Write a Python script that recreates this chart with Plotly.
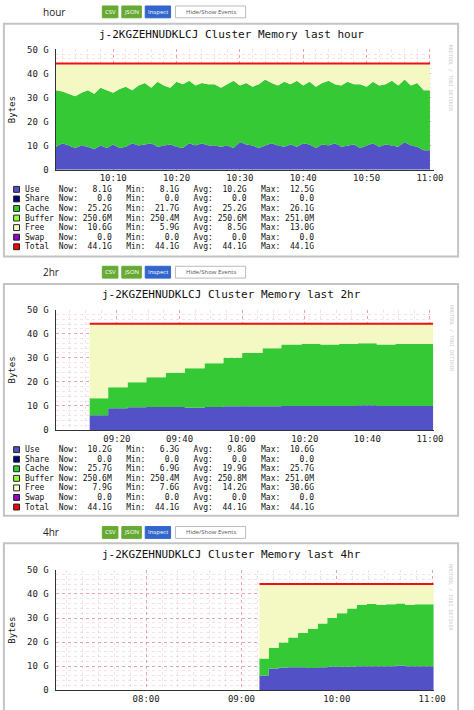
import plotly.graph_objects as go

W, H = 474, 710
def px(x): return x / W
def py(y): return 1 - y / H

# ---------------- data ----------------
use_1h = [10, 9.5, 11, 10, 9, 10, 9.5, 8.5, 10, 9, 10.5, 9, 9.5, 11, 10, 10.5, 11, 9.5, 10, 10.5,
          9.5, 9, 11, 10, 11, 10, 10, 9.5, 10, 9, 11.5, 10.5, 10, 9, 10, 11, 10, 9.5, 10.5, 9.5,
          11, 10.5, 9, 10.5, 10, 11, 9.5, 10, 10.5, 9, 10, 11, 9.5, 10.5, 10, 9.5, 11.5, 10, 9.5, 8.1, 8.1]
cache_top_1h = [31, 33, 32.5, 31.5, 30.5, 32, 33, 31.5, 34, 33, 32, 33.5, 34.5, 33, 35, 36, 34, 36.5, 35, 34,
                36.5, 35.5, 37, 35, 36, 35.5, 35.5, 34, 35.5, 37, 35, 36, 34.5, 35.5, 37.5, 36, 35, 36.5, 35.5, 37,
                35, 36.5, 34.5, 36, 37, 35.5, 35, 36.5, 35.5, 35.5, 34.5, 36.5, 35, 35.5, 37, 35, 37.5, 35, 36, 33, 33]
total_gb = 44.1

# step data shared by 2hr / 4hr (minutes after 09:00)
step_min = [11.3, 17.2, 23.4, 29.4, 35.6, 41.7, 48, 54, 60, 66.5, 72.5, 79, 85, 91, 97, 103, 109, 121]
step_use = [6.1, 9.0, 9.4, 9.5, 9.5, 9.2, 9.5, 9.8, 9.8, 9.8, 10.0, 10.0, 10.0, 10.0, 10.3, 10.0, 10.0, 10.0]
step_cache_top = [13.2, 17.7, 19.8, 21.9, 23.8, 25.6, 27.7, 30.0, 32.0, 34.0, 35.5, 35.8, 35.5, 35.7, 36.0, 35.5, 35.7, 35.7]

y_ticks = [0, 10, 20, 30, 40, 50]
y_labels = ["0", "10 G", "20 G", "30 G", "40 G", "50 G"]
x1_ticks = [10, 20, 30, 40, 50, 60]
x1_labels = ["10:10", "10:20", "10:30", "10:40", "10:50", "11:00"]
x2_ticks = [20, 40, 60, 80, 100, 120]
x2_labels = ["09:20", "09:40", "10:00", "10:20", "10:40", "11:00"]
x3_ticks = [60, 120, 180, 240]
x3_labels = ["08:00", "09:00", "10:00", "11:00"]

legend_names = ["Use", "Share", "Cache", "Buffer", "Free", "Swap", "Total"]
legend_colors = ["#5050c8", "#000080", "#33cc33", "#99ff33", "#ffffcc", "#9900cc", "#ff0000"]
stats_1h = [["8.1G", "8.1G", "10.2G", "12.5G"], ["0.0", "0.0", "0.0", "0.0"],
            ["25.2G", "21.7G", "25.2G", "26.1G"], ["250.6M", "250.4M", "250.6M", "251.0M"],
            ["10.6G", "5.9G", "8.5G", "13.0G"], ["0.0", "0.0", "0.0", "0.0"],
            ["44.1G", "44.1G", "44.1G", "44.1G"]]
stats_2h = [["10.2G", "6.3G", "9.8G", "10.6G"], ["0.0", "0.0", "0.0", "0.0"],
            ["25.7G", "6.9G", "19.9G", "25.7G"], ["250.6M", "250.4M", "250.8M", "251.0M"],
            ["7.9G", "7.6G", "14.2G", "30.6G"], ["0.0", "0.0", "0.0", "0.0"],
            ["44.1G", "44.1G", "44.1G", "44.1G"]]

USE_C, CACHE_C, FREE_C, TOT_C = "#5252c6", "#35c935", "#f4f9c4", "#ee1111"
MONO = "DejaVu Sans Mono"

fig = go.Figure()

def add_stack(x, use, top, xa, ya, shape):
    fig.add_trace(go.Scatter(x=x, y=use, mode="lines", line=dict(width=0, shape=shape, color=USE_C),
                             fill="tozeroy", fillcolor=USE_C, xaxis=xa, yaxis=ya, showlegend=False))
    fig.add_trace(go.Scatter(x=x, y=top, mode="lines", line=dict(width=0, shape=shape, color=CACHE_C),
                             fill="tonexty", fillcolor=CACHE_C, xaxis=xa, yaxis=ya, showlegend=False))
    fig.add_trace(go.Scatter(x=x, y=[total_gb] * len(x), mode="lines", line=dict(width=2, color=TOT_C),
                             fill="tonexty", fillcolor=FREE_C, xaxis=xa, yaxis=ya, showlegend=False))

t1 = list(range(len(use_1h)))
add_stack(t1, use_1h, cache_top_1h, "x", "y", "linear")
add_stack(step_min, step_use, step_cache_top, "x2", "y2", "hv")
add_stack([m + 120 for m in step_min], step_use, step_cache_top, "x3", "y3", "hv")

panels = [
    ("hour", 19, 255, 45, 167, "hour", 187, stats_1h, 7),
    ("2hr", 283, 518, 309, 431, "2hr", 451, stats_2h, 271),
    ("4hr", 546, 716, 573, 695, "4hr", None, None, 535),
]

axis_common = dict(showline=True, linecolor="#333", linewidth=1, ticks="", zeroline=False,
                   tickfont=dict(family=MONO, size=9, color="#222"),
                   gridcolor="rgba(230,120,120,0.6)", griddash="dot", gridwidth=1)
xr = [[0.9, 60.6], [0.4, 121.2], [3, 241]]
xt = [(x1_ticks, x1_labels, 2), (x2_ticks, x2_labels, 5), (x3_ticks, x3_labels, 10)]
shapes, annos = [], []
for i, (lab, bt, bb, pt, pb, suf, ly, stats, hy) in enumerate(panels):
    sfx = "" if i == 0 else str(i + 1)
    fig.update_layout(**{
        "xaxis" + sfx: dict(axis_common, domain=[px(57), px(445)], range=xr[i], anchor="y" + sfx,
                            tickvals=xt[i][0], ticktext=xt[i][1],
                            minor=dict(dtick=xt[i][2], showgrid=True, gridcolor="rgba(235,190,190,0.45)")),
        "yaxis" + sfx: dict(axis_common, domain=[py(pb), py(pt)], range=[0, 50], anchor="x" + sfx,
                            tickvals=y_ticks, ticktext=y_labels, ticklabelstandoff=4,
                            minor=dict(dtick=2, showgrid=True, gridcolor="rgba(235,190,190,0.45)")),
    })
    shapes.append(dict(type="rect", xref="paper", yref="paper", x0=px(4), x1=px(470), y0=py(bb), y1=py(bt),
                       line=dict(color="#c4c4c4", width=2), fillcolor="white", layer="below"))
    annos.append(dict(text=f"j-2KGZEHNUDKLCJ Cluster Memory last {suf}", x=px(237), y=py(bt + 11),
                      xanchor="center", font=dict(family=MONO, size=11, color="#111")))
    annos.append(dict(text="Bytes", x=px(12), y=py((pt + pb) / 2), textangle=-90, xanchor="center",
                      font=dict(family=MONO, size=9, color="#111")))
    annos.append(dict(text="RRDTOOL / TOBI OETIKER", x=px(463), y=py(bt + 55), textangle=90, xanchor="center",
                      font=dict(family=MONO, size=5, color="#cccccc")))
    annos.append(dict(text=lab, x=px(42), y=py(hy), xanchor="left", font=dict(family="Open Sans", size=10, color="#222")))
    for (x0, x1, txt, col) in [(105, 121, "CSV", "#66aa33"), (125, 145, "JSON", "#66aa33"),
                               (149, 175, "Inspect", "#3366cc"), (180, 252, "Hide/Show Events", "white")]:
        shapes.append(dict(type="rect", xref="paper", yref="paper", x0=px(x0), x1=px(x1),
                           y0=py(hy + 6), y1=py(hy - 6), fillcolor=col, layer="below",
                           line=dict(color="#bbbbbb" if col == "white" else col, width=1)))
        annos.append(dict(text=txt, x=px((x0 + x1) / 2), y=py(hy), xanchor="center",
                          font=dict(family="Open Sans", size=6, color="#555" if col == "white" else "white")))
    if stats:
        for j, (name, c, s) in enumerate(zip(legend_names, legend_colors, stats)):
            yy = ly + j * 9.7
            shapes.append(dict(type="rect", xref="paper", yref="paper", x0=px(14), x1=px(20),
                               y0=py(yy + 3), y1=py(yy - 3), fillcolor=c, line=dict(color="#222", width=1)))
            line = f"{name:<6} Now:{s[0]:>7}   Min:{s[1]:>7}   Avg:{s[2]:>7}   Max:{s[3]:>7}"
            annos.append(dict(text=line.replace(" ", "\u00a0"), x=px(24), y=py(yy), xanchor="left",
                              yanchor="middle", font=dict(family=MONO, size=8, color="#111")))

for a in annos:
    a.setdefault("xref", "paper"); a.setdefault("yref", "paper"); a.setdefault("showarrow", False)
    a.setdefault("yanchor", "middle")

fig.update_layout(width=W, height=H, margin=dict(l=0, r=0, t=0, b=0), plot_bgcolor="white",
                  paper_bgcolor="white", shapes=shapes, annotations=annos, showlegend=False)
fig.write_html("out.html", config={"displayModeBar": False},
               post_script="document.body.style.margin='0';document.body.style.overflow='hidden';")
